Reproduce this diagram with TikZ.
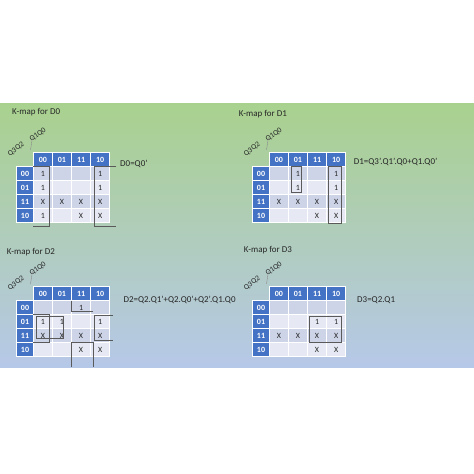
\documentclass[tikz,border=0pt]{standalone}
\usepackage{fontspec}
\setmainfont{Carlito}
\definecolor{hdrblue}{HTML}{4472C4}
\definecolor{banddark}{HTML}{CDD4E8}
\definecolor{bandlight}{HTML}{E6E9F3}
\definecolor{topgreen}{HTML}{A9D18E}
\definecolor{botblue}{HTML}{B6C8E8}
\definecolor{grpline}{HTML}{5A5A5A}
\definecolor{txtdark}{HTML}{262626}
\definecolor{sepgray}{HTML}{8A8A8A}
\newcommand{\KGrid}[1]{%
  \foreach \c/\lbl in {0/00,1/01,2/11,3/10}{
    \node[hdrcell] (#1h\c) at ({(\c+0.5)*19.1}, -7) {\lbl};
    \node[hdrcell, minimum width=16.6bp] (#1r\c) at (-8.3, {\c*14+7}) {\lbl};
  }
  \foreach \r in {0,...,3}{
    \foreach \c in {0,...,3}{
      \ifodd\r
        \node[datacell, fill=bandlight] (#1d\r\c) at ({(\c+0.5)*19.1}, {\r*14+7}) {};
      \else
        \node[datacell, fill=banddark] (#1d\r\c) at ({(\c+0.5)*19.1}, {\r*14+7}) {};
      \fi
    }
  }
  \node[axislbl] (#1rowvar) at (-17.3,-17.2) {Q3Q2};
  \node[axislbl] (#1colvar) at (4.6,-31.8) {Q1Q0};
  \draw[sepgray, line width=0.4bp] (-2.8,-16.5) -- (-0.8,-29.5);
}
\newcommand{\KVals}[2]{%
  \foreach \r/\c/\v in {#2}{
    \node[val] (#1v\r\c) at ({(\c+0.5)*19.1}, {\r*14+7}) {\v};
  }
}
\begin{document}
\begin{tikzpicture}[x=1bp,y=-1bp,
  hdrcell/.style={fill=hdrblue, draw=white, line width=0.9bp, minimum width=19.1bp, minimum height=14bp, inner sep=0pt, text=white, font=\fontsize{8}{9}\selectfont\bfseries},
  datacell/.style={draw=white, line width=0.9bp, minimum width=19.1bp, minimum height=14bp, inner sep=0pt},
  val/.style={inner sep=0pt, text=txtdark, font=\fontsize{8}{9}\selectfont},
  axislbl/.style={inner sep=0pt, rotate=35, text=txtdark, font=\fontsize{7.6}{8}\selectfont},
  titletext/.style={anchor=west, inner sep=0pt, text=txtdark, font=\fontsize{9}{10}\selectfont},
  grp/.style={draw=grpline, line width=0.6bp}]
\useasboundingbox (0,0) rectangle (474,474);
\fill[white] (0,0) rectangle (474,474);
\shade[top color=topgreen, bottom color=botblue] (0,103.3) rectangle (474,367);

% titles and equations
\node[titletext] (t0) at (12,111.7) {K-map for D0};
\node[titletext] (t1) at (238.7,114) {K-map for D1};
\node[titletext] (t2) at (6.7,251.7) {K-map for D2};
\node[titletext] (t3) at (243.7,250) {K-map for D3};
\node[titletext] (e0) at (120,164) {D0=Q0'};
\node[titletext] (e1) at (353.7,162) {D1=Q3'.Q1'.Q0+Q1.Q0'};
\node[titletext] (e2) at (123.3,300) {D2=Q2.Q1'+Q2.Q0'+Q2'.Q1.Q0};
\node[titletext] (e3) at (357,300) {D3=Q2.Q1};

% D0
\begin{scope}[shift={(33.3,166.5)}]
  \KGrid{A}
  \KVals{A}{0/0/1,0/3/1,1/0/1,1/3/1,2/0/X,2/1/X,2/2/X,2/3/X,3/0/1,3/2/X,3/3/X}
  \draw[grp] (0,0) -- (15.7,0) -- (15.7,59.5) -- (0,59.5);
  \draw[grp] (83,0) -- (61,0) -- (61,59.5) -- (83,59.5);
\end{scope}

% D1
\begin{scope}[shift={(269.3,166.5)}]
  \KGrid{B}
  \KVals{B}{0/1/1,0/3/1,1/1/1,1/3/1,2/0/X,2/1/X,2/2/X,2/3/X,3/2/X,3/3/X}
  \draw[grp] (22,-0.5) rectangle (32,26.2);
  \draw[grp] (58.7,-0.5) rectangle (72,56.8);
\end{scope}

% D2
\begin{scope}[shift={(33.3,300.5)}]
  \KGrid{C}
  \KVals{C}{0/2/1,1/0/1,1/1/1,1/3/1,2/0/X,2/1/X,2/2/X,2/3/X,3/2/X,3/3/X}
  \draw[grp] (38.4,0) -- (38.4,10.5) -- (60,10.5);
  \draw[grp] (38.4,66.2) -- (38.4,41.5) -- (60,41.5) -- (60,66.2);
  \draw[grp] (2.7,16.2) rectangle (30,37.8);
  \draw[grp] (0,14) -- (15.7,14) -- (15.7,41.8) -- (0,41.8);
  \draw[grp] (80,14.5) -- (61,14.5) -- (61,39.5) -- (80,39.5);
\end{scope}

% D3
\begin{scope}[shift={(269.3,300.5)}]
  \KGrid{D}
  \KVals{D}{1/2/1,1/3/1,2/0/X,2/1/X,2/2/X,2/3/X,3/2/X,3/3/X}
  \draw[grp] (40.4,15.5) rectangle (71.7,41.8);
\end{scope}
\end{tikzpicture}
\end{document}
